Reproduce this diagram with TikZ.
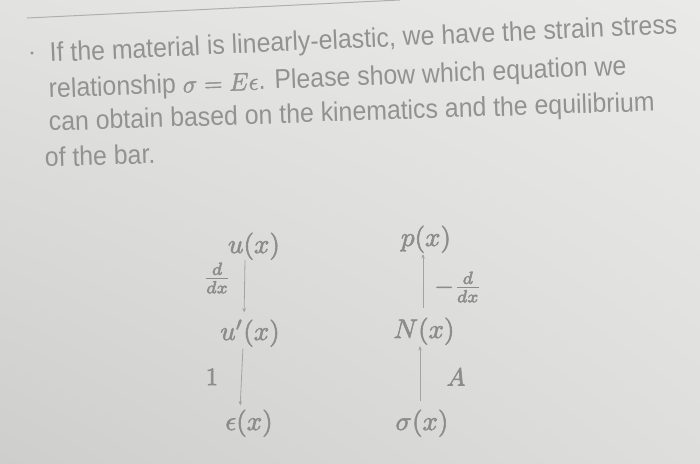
\documentclass[tikz,border=0pt]{standalone}
\usepackage{graphicx}
\usepackage{fontspec}
\setmainfont{Liberation Sans}[FakeStretch=0.92]
\usetikzlibrary{arrows.meta,calc,shadings}
\definecolor{bgTR}{RGB}{234,234,233}
\definecolor{bgTL}{RGB}{226,226,225}
\definecolor{bgBL}{RGB}{206,206,205}
\definecolor{bgBR}{RGB}{222,222,221}
\definecolor{txt}{RGB}{146,146,146}
\definecolor{dia}{RGB}{140,140,140}
\definecolor{rule}{RGB}{175,175,175}
\newcommand{\heavytxt}[1]{\special{pdf:literal direct 2 Tr 0.22 w}#1\special{pdf:literal direct 0 Tr}}
\newcommand{\heavyin}[1]{\special{pdf:literal direct 2 Tr 0.5 w}#1\special{pdf:literal direct 0 Tr}}
\newcommand{\dgmath}[1]{\scalebox{2.7}{\heavytxt{$#1$}}}
\newcommand{\dglbl}[1]{\scalebox{2.5}{\heavytxt{$#1$}}}
\tikzset{
  line/.style={anchor=base west, inner sep=0pt, text=txt, font=\fontsize{27}{30}\selectfont},
  mth/.style={anchor=base, inner sep=0pt, text=dia},
  lbl/.style={inner sep=0pt, text=dia},
  arr/.style={draw=dia!80, line width=0.8pt, -{Stealth[length=4.5pt,width=3.5pt]}}
}
\begin{document}
\begin{tikzpicture}[x=1pt,y=-1pt]
\shade[upper left=bgTL, upper right=bgTR, lower left=bgBL, lower right=bgBR] (0,0) rectangle (700,463);
\useasboundingbox (0,0) rectangle (700,463);
% top rule
\coordinate (r1) at (27,18);
\coordinate (r2) at (400,0);
\draw[rule, line width=1pt] (r1) -- (r2);
% bullet
\fill[txt] (32,53) circle (1.6);
% text lines
\node[line, rotate=2.6] (l1) at (50,62) {If the material is linearly-elastic, we have the strain stress};
\node[line, rotate=2.3] (l2) at (49,98) {relationship \heavyin{$\sigma = E\epsilon$}. Please show which equation we};
\node[line, rotate=1.9] (l3) at (49,131) {can obtain based on the kinematics and the equilibrium};
\node[line, rotate=1.8] (l4) at (45,167) {of the bar.};
% left column
\node[mth] (u) at (254,253) {\dgmath{u(x)}};
\node[mth] (up) at (250,340) {\dgmath{u'(x)}};
\node[mth] (eps) at (249,430) {\dgmath{\epsilon(x)}};
\node[lbl] (dd1) at (217,278) {\dglbl{\frac{d}{dx}}};
\node[lbl] (one) at (212,377) {\dglbl{1}};
\draw[arr, shorten <=0pt, shorten >=7pt] ([xshift=-9pt]u.south) -- ([xshift=-6pt]up.north);
\draw[arr, shorten <=2pt, shorten >=4pt] ([xshift=-7pt]up.south) -- ([xshift=-9pt]eps.north);
% right column
\node[mth] (p) at (426,246) {\dgmath{p(x)}};
\node[mth] (N) at (424,338) {\dgmath{N(x)}};
\node[mth] (sig) at (422,430) {\dgmath{\sigma(x)}};
\node[lbl] (dd2) at (458,287) {\dglbl{-\frac{d}{dx}}};
\node[lbl] (A) at (456,377) {\dglbl{A}};
\draw[arr, shorten <=10pt, shorten >=1pt] ([xshift=-1pt]N.north) -- ([xshift=-3pt]p.south);
\draw[arr, shorten <=9pt, shorten >=1pt] ([xshift=-2pt]sig.north) -- ([xshift=-4pt]N.south);
\end{tikzpicture}
\end{document}
